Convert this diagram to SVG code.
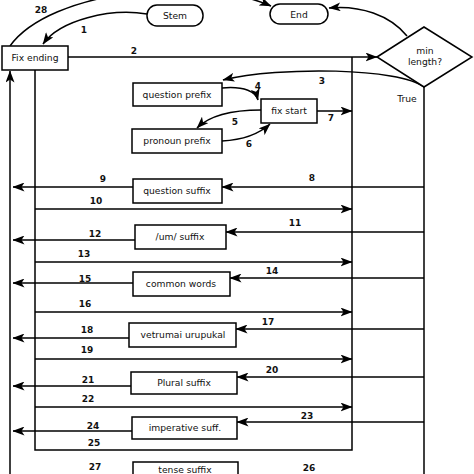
<svg xmlns="http://www.w3.org/2000/svg" width="474" height="474" viewBox="0 0 474 474">
<style>
.b{fill:#fff;stroke:#000;stroke-width:1.5}
.t{font-family:"DejaVu Sans",sans-serif;font-size:9.2px;text-anchor:middle;fill:#111}
.n{font-family:"DejaVu Sans",sans-serif;font-size:9px;font-weight:bold;text-anchor:middle;fill:#111}
.c{fill:none;stroke:#000;stroke-width:1.5}
.a{marker-end:url(#ah)}
</style>
<defs>
<marker id="ah" viewBox="0 0 12 9" refX="11.5" refY="4.5" markerWidth="12" markerHeight="9" orient="auto" markerUnits="userSpaceOnUse"><path d="M0,0 L12,4.5 L0,9 L3,4.5 z" fill="#000"/></marker>
</defs>
<rect width="474" height="474" fill="#fff"/>
<g id="connectors">
<path class="c a" d="M10,46 C50,-10 200,-25 271,6"/>
<path class="c a" d="M147,14 C110,8 60,20 43,44"/>
<path class="c a" d="M407,36 C390,15 360,5 329,8"/>
<path class="c a" d="M68,57 L377,57"/>
<path class="c a" d="M424,87 C400,68 280,66 223,80"/>
<path class="c a" d="M222,88 C245,86 256,92 258,100"/>
<path class="c a" d="M261,110 C235,110 210,115 197,128"/>
<path class="c a" d="M222,141 C240,140 258,135 270,124"/>
<path class="c a" d="M317,111 L352,111"/>
<path class="c" d="M352,57 L352,450 L35,450 L35,70"/>
<path class="c" d="M424,87 L424,474"/>
<path class="c a" d="M10,474 L10,71"/>
<path class="c a" d="M424,187 L222,187"/>
<path class="c a" d="M133,187 L13,187"/>
<path class="c a" d="M35,209 L352,209"/>
<path class="c a" d="M424,232 L226,232"/>
<path class="c a" d="M135,240 L13,240"/>
<path class="c a" d="M35,262 L352,262"/>
<path class="c a" d="M424,278 L230,278"/>
<path class="c a" d="M133,283 L13,283"/>
<path class="c a" d="M35,312 L352,312"/>
<path class="c a" d="M424,329 L236,329"/>
<path class="c a" d="M129,338 L13,338"/>
<path class="c a" d="M35,359 L352,359"/>
<path class="c a" d="M424,377 L237,377"/>
<path class="c a" d="M131,386 L13,386"/>
<path class="c a" d="M35,407 L352,407"/>
<path class="c a" d="M424,422 L237,422"/>
<path class="c a" d="M132,431 L13,431"/>
<text class="n" x="41" y="13">28</text>
<text class="n" x="84" y="33">1</text>
<text class="n" x="134" y="54">2</text>
<text class="n" x="322" y="84">3</text>
<text class="n" x="258" y="89">4</text>
<text class="n" x="235" y="125">5</text>
<text class="n" x="249" y="147">6</text>
<text class="n" x="331" y="121">7</text>
<text class="n" x="312" y="181">8</text>
<text class="n" x="103" y="182">9</text>
<text class="n" x="96" y="204">10</text>
<text class="n" x="295" y="226">11</text>
<text class="n" x="95" y="237">12</text>
<text class="n" x="84" y="257">13</text>
<text class="n" x="272" y="274">14</text>
<text class="n" x="85" y="282">15</text>
<text class="n" x="85" y="307">16</text>
<text class="n" x="268" y="325">17</text>
<text class="n" x="87" y="333">18</text>
<text class="n" x="87" y="353">19</text>
<text class="n" x="272" y="373">20</text>
<text class="n" x="88" y="383">21</text>
<text class="n" x="88" y="402">22</text>
<text class="n" x="307" y="419">23</text>
<text class="n" x="93" y="429">24</text>
<text class="n" x="94" y="446">25</text>
<text class="n" x="309" y="471">26</text>
<text class="n" x="95" y="470">27</text>
<text class="t" x="407" y="102">True</text>
</g>
<g id="stem"><rect class="b" x="147" y="5" width="56" height="21" rx="10"/><text class="t" x="175" y="19">Stem</text></g>
<g id="end"><rect class="b" x="270" y="4" width="58" height="20" rx="10"/><text class="t" x="299" y="17.5">End</text></g>
<g id="fix-ending"><rect class="b" x="2" y="46" width="66" height="24"/><text class="t" x="35" y="61">Fix ending</text></g>
<g id="min-length"><polygon class="b" points="377,57 424,27 472,57 424,87"/><text class="t" x="425" y="54">min</text><text class="t" x="425" y="65">length?</text></g>
<g id="question-prefix"><rect class="b" x="133" y="83" width="89" height="23"/><text class="t" x="177" y="98">question prefix</text></g>
<g id="pronoun-prefix"><rect class="b" x="132" y="129" width="90" height="24"/><text class="t" x="177" y="144">pronoun prefix</text></g>
<g id="fix-start"><rect class="b" x="261" y="99" width="56" height="24"/><text class="t" x="289" y="114">fix start</text></g>
<g id="question-suffix"><rect class="b" x="133" y="179" width="89" height="24"/><text class="t" x="177" y="194">question suffix</text></g>
<g id="um-suffix"><rect class="b" x="135" y="225" width="91" height="24"/><text class="t" x="180" y="240">/um/ suffix</text></g>
<g id="common-words"><rect class="b" x="133" y="272" width="97" height="24"/><text class="t" x="181" y="287">common words</text></g>
<g id="vetrumai-urupukal"><rect class="b" x="129" y="323" width="107" height="24"/><text class="t" x="183" y="338">vetrumai urupukal</text></g>
<g id="plural-suffix"><rect class="b" x="131" y="372" width="106" height="22"/><text class="t" x="184" y="386">Plural suffix</text></g>
<g id="imperative-suff"><rect class="b" x="132" y="417" width="105" height="22"/><text class="t" x="185" y="431">imperative suff.</text></g>
<g id="tense-suffix"><rect class="b" x="133" y="462" width="105" height="22"/><text class="t" x="185" y="473">tense suffix</text></g>
</svg>
